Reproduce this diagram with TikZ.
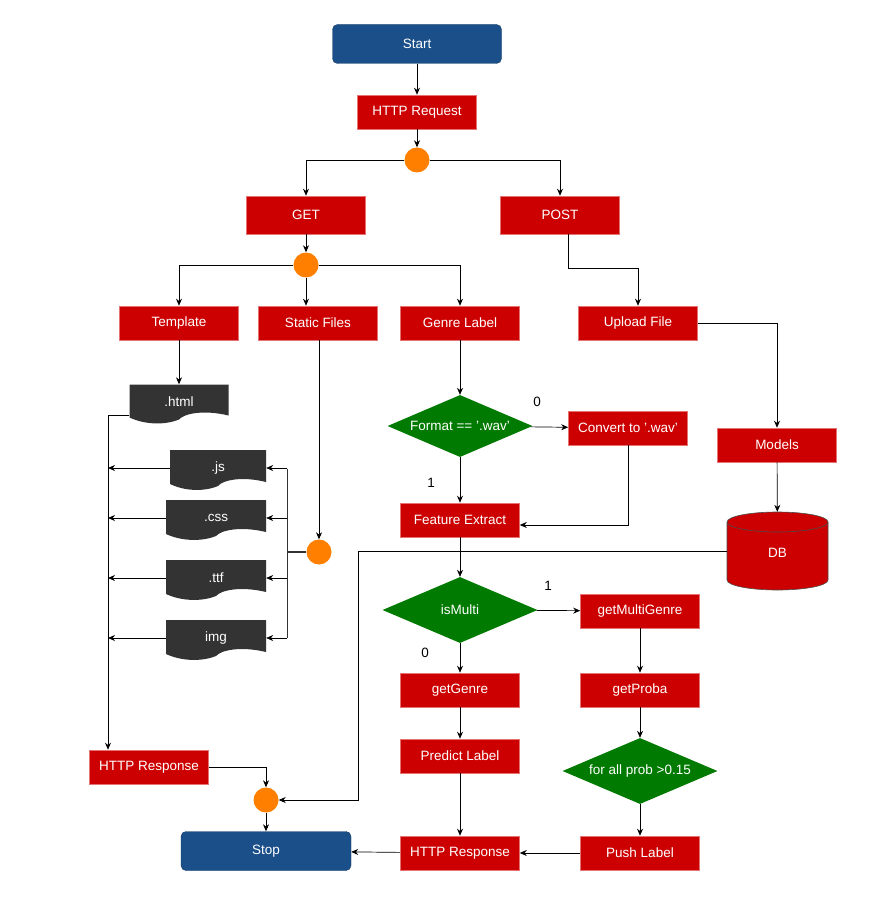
\documentclass[tikz,border=0pt]{standalone}
\usepackage{fontspec}
\setmainfont{Liberation Sans}
\usetikzlibrary{arrows.meta,calc,shapes.geometric}
\definecolor{rd}{HTML}{CC0000}
\definecolor{rdb}{HTML}{E57373}
\definecolor{gr}{HTML}{007A00}
\definecolor{bl}{HTML}{1B4F8A}
\definecolor{dk}{HTML}{333333}
\definecolor{og}{HTML}{FF8000}
\begin{document}
\begin{tikzpicture}[x=1pt,y=-1pt,
  txt/.style={text=white,font=\fontsize{13.5}{15}\selectfont,inner sep=0pt},
  box/.style={txt,rectangle,fill=rd,draw=rdb,line width=0.6pt,minimum width=119pt,minimum height=34pt},
  term/.style={txt,rectangle,rounded corners=5pt,fill=bl,draw=bl!70!black,minimum width=169pt,minimum height=39pt},
  dia/.style={txt,diamond,fill=gr,aspect=2.3,inner sep=1pt},
  jn/.style={circle,fill=og,minimum size=25pt,inner sep=0pt},
  docnode/.style={txt,rectangle,draw=none},
  lab/.style={font=\fontsize{13.5}{15}\selectfont,inner sep=0pt},
  ar/.style={draw=black,line width=0.7pt,-{Stealth[length=7pt,width=6pt]}},
  ln/.style={draw=black!80,line width=0.7pt}]
\useasboundingbox (0,0) rectangle (894,901);
\newcommand\mydoc[6]{%
  \fill[dk] ($(#2,#3)+(-#4/2,-#5/2)$) -- ($(#2,#3)+(#4/2,-#5/2)$) -- ($(#2,#3)+(#4/2,#5/2-4)$)
   .. controls ($(#2,#3)+(#4*0.25,#5/2-10)$) and ($(#2,#3)+(#4*0.05,#5/2-6)$) .. ($(#2,#3)+(0,#5/2)$)
   .. controls ($(#2,#3)+(-#4*0.15,#5/2+6)$) and ($(#2,#3)+(-#4*0.35,#5/2+5)$) .. ($(#2,#3)+(-#4/2,#5/2-2)$) -- cycle;
  \node[docnode,minimum width=#4,minimum height=#5] (#1) at (#2,#3) {#6};}
% nodes
\node[term] (start) at (417,44) {Start};
\node[box] (req) at (417,112) {HTTP Request};
\node[jn] (j1) at (417,160) {};
\node[box,minimum height=38pt] (get) at (306,215) {GET};
\node[box,minimum height=38pt] (post) at (560,215) {POST};
\node[jn] (j2) at (306,265) {};
\node[box] (tpl) at (179,323) {Template};
\node[box] (sf) at (318,323) {Static Files};
\node[box] (gl) at (460,323) {Genre Label};
\node[box] (up) at (638,323) {Upload File};
\mydoc{html}{179}{402}{99}{35}{.html}
\mydoc{js}{218}{468}{96}{36}{.js}
\mydoc{css}{216}{518}{100}{36}{.css}
\mydoc{ttf}{216}{578}{100}{36}{.ttf}
\mydoc{img}{216}{638}{100}{36}{img}
\node[jn] (j3) at (319,552) {};
\node[dia,minimum width=145pt,minimum height=62pt] (fmt) at (460,426) {Format == '.wav'};
\node[box] (conv) at (628,428) {Convert to '.wav'};
\node[box] (fe) at (460,520) {Feature Extract};
\node[box] (mod) at (777,445) {Models};
\node[rectangle,minimum width=101pt,minimum height=78pt] (db) at (777.5,551) {};
\fill[rd] (727,522) -- (727,580) arc[start angle=180,end angle=0,x radius=50.5,y radius=10] -- (828,522) arc[start angle=0,end angle=-180,x radius=50.5,y radius=10] -- cycle;
\draw[black!70,line width=0.6pt] (727,522) -- (727,580) arc[start angle=180,end angle=0,x radius=50.5,y radius=10] -- (828,522) arc[start angle=0,end angle=-180,x radius=50.5,y radius=10];
\draw[black!70,line width=0.6pt] (727,522) arc[start angle=180,end angle=0,x radius=50.5,y radius=10];
\node[txt] at (777.5,553) {DB};
\node[dia,minimum width=155pt,minimum height=66pt] (im) at (460,610) {isMulti};
\node[box] (gmg) at (640,611) {getMultiGenre};
\node[box] (gg) at (460,690) {getGenre};
\node[box] (gp) at (640,690) {getProba};
\node[box] (pl) at (460,756) {Predict Label};
\node[dia,minimum width=155pt,minimum height=66pt] (fa) at (640,771) {for all prob >0.15};
\node[box] (hr2) at (460,853) {HTTP Response};
\node[box] (push) at (640,853) {Push Label};
\node[term,minimum width=170pt] (stop) at (266,851) {Stop};
\node[box] (hr1) at (149,767) {HTTP Response};
\node[jn] (j4) at (266,800) {};
\node[lab] at (537,402) {0};
\node[lab] at (431,483) {1};
\node[lab] at (548,586) {1};
\node[lab] at (425,653) {0};
% edges
\draw[ar] (start) -- (req);
\draw[ar] (req) -- (j1);
\draw[ar] (j1) -| (get);
\draw[ar] (j1) -| (post);
\draw[ar] (get) -- (j2);
\draw[ar] (j2) -| (tpl);
\draw[ar] (j2) -- (j2 |- sf.north);
\draw[ar] (j2) -| (gl);
\draw[ar] ($(post.south)+(8,0)$) -- ++(0,34) -| (up);
\draw[ar] (up) -| (mod);
\draw[ar] (mod) -- (db);
\draw[ar] (db.west) -- (358,551) |- (j4);
\draw[ar] (tpl) -- (html);
\draw[ar] ($(html.west)+(0,13)$) -| (hr1.north -| 108,0);
\foreach \n in {js,css,ttf,img}{\draw[ar] (\n.west) -- (\n.west -| 108,0);}
\draw[ln,line width=1.4pt] (j3) -- (287,552);
\draw[ln] (287,469) -- (287,638);
\foreach \n in {js,css,ttf,img}{\draw[ar] (\n.east -| 287,0) -- (\n.east);}
\draw[ar] (sf.south -| j3) -- (j3);
\draw[ar] (gl) -- (fmt);
\draw[ar] (fmt) -- (conv);
\draw[ar] (fmt) -- (fe);
\draw[ar] (conv) |- ($(fe.east)+(0,5)$);
\draw[ar] (fe) -- (im);
\draw[ar] (im) -- (gmg);
\draw[ar] (im) -- (gg);
\draw[ar] (gg) -- (pl);
\draw[ar] (pl) -- (hr2);
\draw[ar] (gmg) -- (gp);
\draw[ar] (gp) -- (fa);
\draw[ar] (fa) -- (push);
\draw[ar] (push) -- (hr2);
\draw[ar] (hr2) -- (stop);
\draw[ar] (hr1) -| (j4);
\draw[ar] (j4) -- (stop);
\end{tikzpicture}
\end{document}
